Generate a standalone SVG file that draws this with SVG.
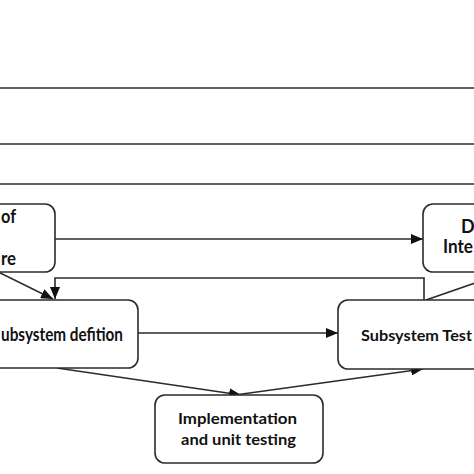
<svg xmlns="http://www.w3.org/2000/svg" width="474" height="474" viewBox="0 0 474 474">
<defs>
<style>
.box{fill:#fff;stroke:#2b2b2b;stroke-width:1.6}
.con{fill:none;stroke:#2b2b2b;stroke-width:1.6}
.rule{stroke:#5d6364;stroke-width:2}
.t{font-family:Lato,"Open Sans",sans-serif;font-weight:bold;font-size:18px;fill:#111}
.s{font-size:16px}
</style>
<marker id="ah" markerUnits="userSpaceOnUse" markerWidth="12" markerHeight="10" viewBox="0 0 12 10" refX="12" refY="5" orient="auto">
<path d="M0,0 L12,5 L0,10 Z" fill="#111"/>
</marker>
</defs>
<rect width="474" height="474" fill="#fff"/>
<g id="rules">
<line class="rule" x1="0" y1="88" x2="474" y2="88"/>
<line class="rule" x1="0" y1="144" x2="474" y2="144" stroke="#8a8e8e"/>
<line class="rule" x1="0" y1="184" x2="474" y2="184"/>
</g>
<g id="connectors">
<line class="con" x1="55" y1="239" x2="423" y2="239" marker-end="url(#ah)"/>
<polyline class="con" points="424,300 424,278 55,278 55,299" marker-end="url(#ah)"/>
<line class="con" x1="-10" y1="268" x2="53" y2="299" marker-end="url(#ah)"/>
<line class="con" x1="484" y1="280" x2="426" y2="300"/>
<line class="con" x1="138" y1="333" x2="338" y2="333" marker-end="url(#ah)"/>
<line class="con" x1="57" y1="368" x2="241" y2="395" marker-end="url(#ah)"/>
<line class="con" x1="235" y1="395" x2="423" y2="369" marker-end="url(#ah)"/>
</g>
<g id="node-architecture">
<rect class="box" x="-60" y="204" width="115" height="68" rx="10"/>
<text class="t" x="1" y="223" textLength="15" lengthAdjust="spacingAndGlyphs">of</text>
<text class="t" x="1" y="265" textLength="15" lengthAdjust="spacingAndGlyphs">re</text>
</g>
<g id="node-integration">
<rect class="box" x="423" y="204" width="100" height="68" rx="10"/>
<text class="t" x="461" y="233">D</text>
<text class="t" x="443" y="253" textLength="30" lengthAdjust="spacingAndGlyphs">Inte</text>
</g>
<g id="node-subsystem-definition">
<rect class="box" x="-60" y="300" width="198" height="68" rx="10"/>
<text class="t" x="1" y="341" textLength="122" lengthAdjust="spacingAndGlyphs">ubsystem defition</text>
</g>
<g id="node-subsystem-test">
<rect class="box" x="338" y="300" width="180" height="69" rx="10"/>
<text class="t s" x="361" y="341" textLength="111" lengthAdjust="spacingAndGlyphs">Subsystem Test</text>
</g>
<g id="node-implementation">
<rect class="box" x="155" y="395" width="168" height="68" rx="10"/>
<text class="t s" x="178" y="424" textLength="119" lengthAdjust="spacingAndGlyphs">Implementation</text>
<text class="t s" x="181" y="445" textLength="115" lengthAdjust="spacingAndGlyphs">and unit testing</text>
</g>
</svg>
